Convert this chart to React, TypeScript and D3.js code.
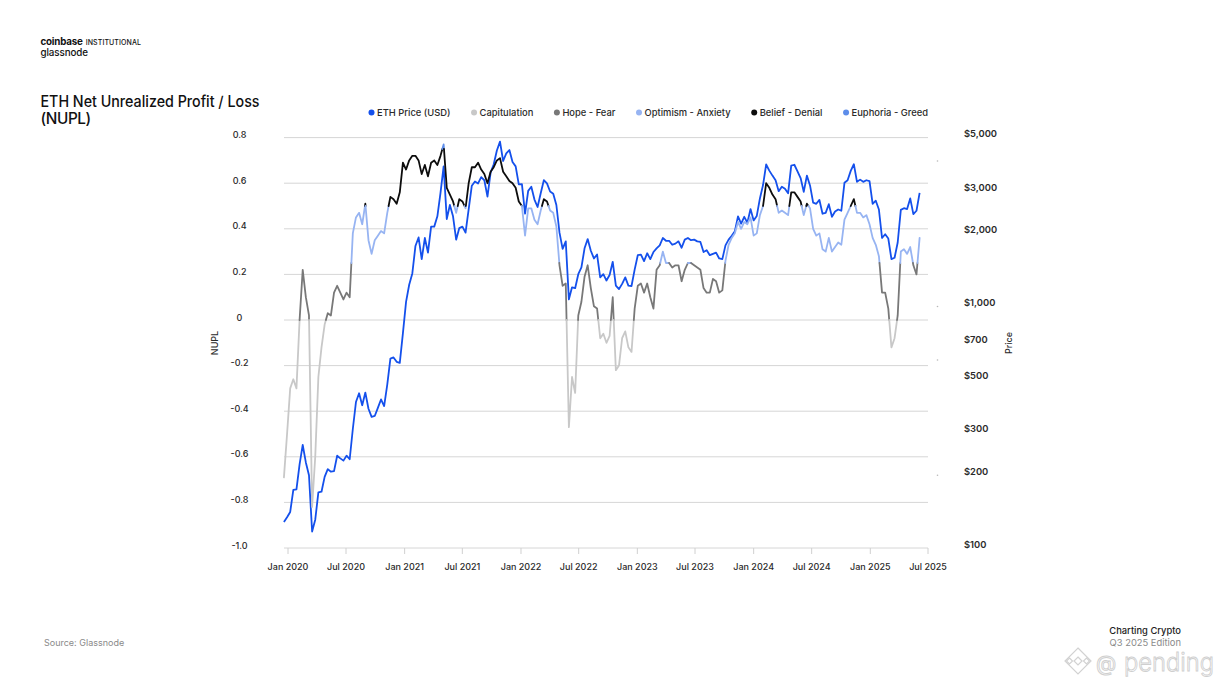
import { useEffect, useRef } from "react";
import * as d3 from "d3";

// samples every 10 days starting 19 Dec 2019
const START = new Date(2019, 11, 19);
const STEP_DAYS = 10;

const ETH_PRICE = [
  128, 134, 141, 174, 175, 222, 267, 226, 200, 117,
  131, 170, 171, 197, 212, 207, 208, 241, 235, 230,
  241, 233, 311, 402, 437, 390, 440, 377, 349, 352,
  380, 412, 387, 475, 608, 615, 590, 584, 775, 1045,
  1230, 1370, 1780, 1930, 1570, 1920, 1670, 2140, 2140, 2360,
  2950, 3800, 2300, 2630, 2360, 1890, 2110, 2140, 2020, 2530,
  3160, 3290, 3230, 3430, 3330, 2850, 3580, 3880, 4420, 4810,
  4000, 4300, 4440, 3960, 3800, 3200, 3210, 2420, 3010, 3130,
  2770, 2580, 2940, 3330, 3230, 2990, 2930, 2630, 2020, 1730,
  1860, 1070, 1200, 1190, 1360, 1450, 1740, 1900, 1700, 1580,
  1640, 1320, 1360, 1280, 1350, 1530, 1220, 1180, 1240, 1320,
  1220, 1215, 1420, 1630, 1640, 1540, 1660, 1570, 1680, 1740,
  1790, 1920, 1870, 1870, 1800, 1820, 1860, 1750, 1890, 1920,
  1880, 1890, 1860, 1850, 1680, 1710, 1630, 1650, 1670, 1580,
  1570, 1790, 1890, 1960, 2050, 2360, 2200, 2350, 2220, 2530,
  2270, 2370, 2800, 3180, 3870, 3650, 3480, 3330, 3000, 3130,
  3070, 2940, 3830, 3860, 3620, 3400, 2980, 3480, 3170, 2690,
  2660, 2760, 2420, 2440, 2650, 2350, 2470, 2520, 2490, 3250,
  3330, 3640, 3880, 3280, 3350, 3280, 3330, 3300, 2660, 2740,
  2520, 1920, 1990, 1910, 1570, 1590, 1840, 2510, 2550, 2530,
  2800, 2410, 2490, 2950,
];

const NUPL = [
  -0.69, -0.5, -0.3, -0.26, -0.3, 0.0, 0.22, 0.1, 0.02, -0.82,
  -0.6, -0.25, -0.12, -0.02, 0.03, 0.02, 0.12, 0.15, 0.12, 0.09,
  0.12, 0.1, 0.38, 0.45, 0.47, 0.42, 0.51, 0.35, 0.29, 0.35,
  0.37, 0.39, 0.38, 0.47, 0.54, 0.53, 0.51, 0.56, 0.69, 0.66,
  0.7, 0.72, 0.72, 0.7, 0.64, 0.68, 0.63, 0.69, 0.7, 0.68,
  0.72, 0.77, 0.58, 0.55, 0.52, 0.47, 0.53, 0.52, 0.49, 0.6,
  0.67, 0.67, 0.69, 0.66, 0.64, 0.6, 0.65, 0.67, 0.7, 0.71,
  0.65, 0.63, 0.61, 0.6, 0.58, 0.52, 0.5, 0.37, 0.49, 0.49,
  0.44, 0.42, 0.48, 0.53, 0.52, 0.48, 0.47, 0.41, 0.24, 0.15,
  0.16, -0.47, -0.25, -0.32, 0.02, 0.08, 0.19, 0.24, 0.14, 0.06,
  0.05, -0.08, -0.06, -0.1, -0.07, 0.1, -0.22, -0.2, -0.08, -0.05,
  -0.12, -0.14, 0.05, 0.15, 0.16, 0.12, 0.16, 0.1, 0.05, 0.22,
  0.24, 0.3, 0.25, 0.25, 0.23, 0.24, 0.24, 0.17, 0.22, 0.25,
  0.25, 0.24, 0.23, 0.22, 0.14, 0.12, 0.12, 0.18, 0.17, 0.12,
  0.13, 0.26, 0.33, 0.36, 0.38, 0.43, 0.4, 0.43, 0.42, 0.45,
  0.37, 0.38, 0.46, 0.5, 0.6, 0.58, 0.55, 0.53, 0.47, 0.48,
  0.47, 0.46, 0.56, 0.56, 0.54, 0.52, 0.46, 0.51, 0.49, 0.4,
  0.37, 0.38, 0.31, 0.3, 0.36, 0.3, 0.32, 0.34, 0.33, 0.44,
  0.47, 0.5, 0.53, 0.47, 0.47, 0.45, 0.46, 0.42, 0.36, 0.33,
  0.28, 0.12, 0.12, 0.05, -0.12, -0.08, 0.02, 0.3, 0.31, 0.29,
  0.32, 0.24, 0.2, 0.36,
];

const NUPL_TICKS = [0.8, 0.6, 0.4, 0.2, 0, -0.2, -0.4, -0.6, -0.8, -1.0];
const PRICE_TICKS = [5000, 3000, 2000, 1000, 700, 500, 300, 200, 100];
const PRICE_DOTS = [4000, 1000, 600, 200];

const ZONE_NAMES = ["Capitulation", "Hope - Fear", "Optimism - Anxiety", "Belief - Denial", "Euphoria - Greed"];
const ZONE_BREAKS = [0, 0.25, 0.5, 0.75];
const ZONE_COLORS = ["#c8c8c8", "#787878", "#97b4f2", "#0d0d0d", "#5d8dea"];
const PRICE_COLOR = "#1450ec";

const FONT = "Inter, 'Noto Sans', sans-serif";

const W = 1222;
const H = 688;
const LEFT = 284;
const RIGHT = 928;
const TOP = 137.6;
const BOTTOM = 548;

export default function App() {
  const legendRef = useRef<SVGGElement>(null);

  const dates = NUPL.map((_, i) => d3.timeDay.offset(START, i * STEP_DAYS));
  const d0 = new Date(2020, 0, 1);
  const d1 = new Date(2025, 6, 1);
  // the source draws its data slightly narrower than its evenly spaced date labels
  const x = d3.scaleTime().domain([d0, d1]).range([288, 916.8]);
  const xLabels = d3.scaleTime().domain([d0, d1]).range([288, 928]);
  const y = d3.scaleLinear().domain([-1, 0.8]).range([BOTTOM, TOP]);
  const yPrice = d3.scaleLog().domain([100, 5000]).range([BOTTOM, TOP]);

  const priceLine = d3
    .line<number>()
    .x((_, i) => x(dates[i]))
    .y((d) => yPrice(d));

  // split NUPL into runs coloured by market-cycle zone
  const zoneOf = (v: number) => d3.bisectRight(ZONE_BREAKS, v);
  const runs: { zone: number; pts: [number, number][] }[] = [];
  for (let i = 1; i < NUPL.length; i++) {
    const a = NUPL[i - 1];
    const b = NUPL[i];
    const xa = x(dates[i - 1]);
    const xb = x(dates[i]);
    const fs = [0, 1];
    ZONE_BREAKS.forEach((th) => {
      if (a !== b && (th - a) * (th - b) < 0) fs.push((th - a) / (b - a));
    });
    fs.sort((p, q) => p - q);
    for (let k = 1; k < fs.length; k++) {
      const f0 = fs[k - 1];
      const f1 = fs[k];
      const zone = zoneOf(a + ((f0 + f1) / 2) * (b - a));
      const p0: [number, number] = [xa + f0 * (xb - xa), y(a + f0 * (b - a))];
      const p1: [number, number] = [xa + f1 * (xb - xa), y(a + f1 * (b - a))];
      const last = runs[runs.length - 1];
      if (last && last.zone === zone) last.pts.push(p1);
      else runs.push({ zone, pts: [p0, p1] });
    }
  }
  const line = d3.line();

  const xTicks = xLabels.ticks(d3.timeMonth.every(6)!);
  const fmtDate = d3.timeFormat("%b %Y");
  const fmtPrice = d3.format("$,");

  useEffect(() => {
    if (!legendRef.current) return;
    const g = d3.select(legendRef.current);
    g.selectAll("*").remove();
    const items = [
      { label: "ETH Price (USD)", color: PRICE_COLOR },
      ...ZONE_NAMES.map((label, i) => ({ label, color: ZONE_COLORS[i] })),
    ];
    let cx = 371.5;
    items.forEach((it) => {
      g.append("circle").attr("cx", cx).attr("cy", 112.5).attr("r", 3).attr("fill", it.color);
      const t = g
        .append("text")
        .attr("x", cx + 5.5)
        .attr("y", 116)
        .attr("font-size", 9.4)
        .attr("font-weight", 500)
        .attr("fill", "#2a2a2a")
        .text(it.label);
      const w = (t.node() as SVGTextElement).getComputedTextLength();
      cx += 5.5 + w + 23.6;
    });
  }, []);

  return (
    <svg
      width={W}
      height={H}
      style={{ position: "absolute", left: 0, top: 0, background: "#fff", fontFamily: FONT }}
    >
      {/* header */}
      <text x={40.5} y={45} fontSize={9.8} fontWeight={700} fill="#111" letterSpacing={-0.2}>
        coinbase
        <tspan dx={3} fontSize={7} fontWeight={500} letterSpacing={0.1}>
          INSTITUTIONAL
        </tspan>
      </text>
      <text x={40.5} y={56} fontSize={9.8} fontWeight={500} fill="#111" letterSpacing={-0.1}>
        glassnode
      </text>
      <text x={40.5} y={107} fontSize={15.3} fontWeight={500} fill="#111" textLength={219} lengthAdjust="spacingAndGlyphs">
        ETH Net Unrealized Profit / Loss
      </text>
      <text x={40.5} y={124} fontSize={15.3} fontWeight={500} fill="#111" letterSpacing={-0.4}>
        (NUPL)
      </text>

      <g ref={legendRef} />

      {/* grid */}
      {NUPL_TICKS.map((t) => (
        <line key={t} x1={LEFT} x2={RIGHT} y1={y(t)} y2={y(t)} stroke="#d6d6d6" strokeWidth={1} />
      ))}
      {xTicks.map((d) => (
        <line key={+d} x1={xLabels(d)} x2={xLabels(d)} y1={BOTTOM} y2={BOTTOM + 6} stroke="#d0d0d0" />
      ))}

      {/* left axis */}
      {NUPL_TICKS.map((t) => (
        <text key={t} x={239.5} y={y(t) + 0.5} fontSize={9} fontWeight={500} fill="#2a2a2a" textAnchor="middle">
          {t === 0 ? "0" : t.toFixed(1)}
        </text>
      ))}
      <text transform={`translate(218,343) rotate(-90)`} fontSize={9} fontWeight={500} fill="#2a2a2a" textAnchor="middle">
        NUPL
      </text>

      {/* right axis */}
      {PRICE_TICKS.map((p) => (
        <text key={p} x={964} y={yPrice(p) - 0.5} fontSize={9.4} fontWeight={600} fill="#2a2a2a">
          {fmtPrice(p)}
        </text>
      ))}
      {PRICE_DOTS.map((p) => (
        <circle key={p} cx={937.5} cy={yPrice(p)} r={0.8} fill="#b8b8b8" />
      ))}
      <text transform={`translate(1012,343) rotate(-90)`} fontSize={9} fontWeight={500} fill="#2a2a2a" textAnchor="middle">
        Price
      </text>

      {/* bottom axis */}
      {xTicks.map((d) => (
        <text key={+d} x={xLabels(d)} y={569.5} fontSize={9} fontWeight={500} fill="#2a2a2a" textAnchor="middle">
          {fmtDate(d)}
        </text>
      ))}

      {/* series */}
      <path d={priceLine(ETH_PRICE) ?? ""} fill="none" stroke={PRICE_COLOR} strokeWidth={1.8} strokeLinejoin="round" />
      {runs.map((r, i) => (
        <path
          key={i}
          d={line(r.pts) ?? ""}
          fill="none"
          stroke={ZONE_COLORS[r.zone]}
          strokeWidth={1.8}
          strokeLinejoin="round"
          strokeLinecap="round"
        />
      ))}

      {/* footer */}
      <text x={44} y={645.5} fontSize={9} fill="#8a8a8a">
        Source: Glassnode
      </text>
      <text x={1181} y={634} fontSize={9.4} fontWeight={500} fill="#222" textAnchor="end">
        Charting Crypto
      </text>
      <text x={1181} y={645.5} fontSize={9.4} fill="#8a8a8a" textAnchor="end">
        Q3 2025 Edition
      </text>

      {/* watermark */}
      <g fill="none" stroke="#d2d2d2" strokeWidth={1.2} transform="translate(1078,661)">
        <path d="M0,-13 L13,0 L0,13 L-13,0 Z" />
        <path d="M0,-4 L4,0 L0,4 L-4,0 Z" />
        <path d="M-8.5,-3 L-5.5,0 L-8.5,3 L-11.5,0 Z" />
        <path d="M8.5,-3 L11.5,0 L8.5,3 L5.5,0 Z" />
      </g>
      <text x={1096} y={671} fontSize={21} fill="#fff" stroke="#cfcfcf" strokeWidth={0.9}>
        @
      </text>
      <text
        x={1124}
        y={671}
        fontSize={25}
        fontWeight={300}
        fill="#fff"
        stroke="#cfcfcf"
        strokeWidth={0.9}
        textLength={90}
        lengthAdjust="spacingAndGlyphs"
      >
        pending
      </text>
    </svg>
  );
}
